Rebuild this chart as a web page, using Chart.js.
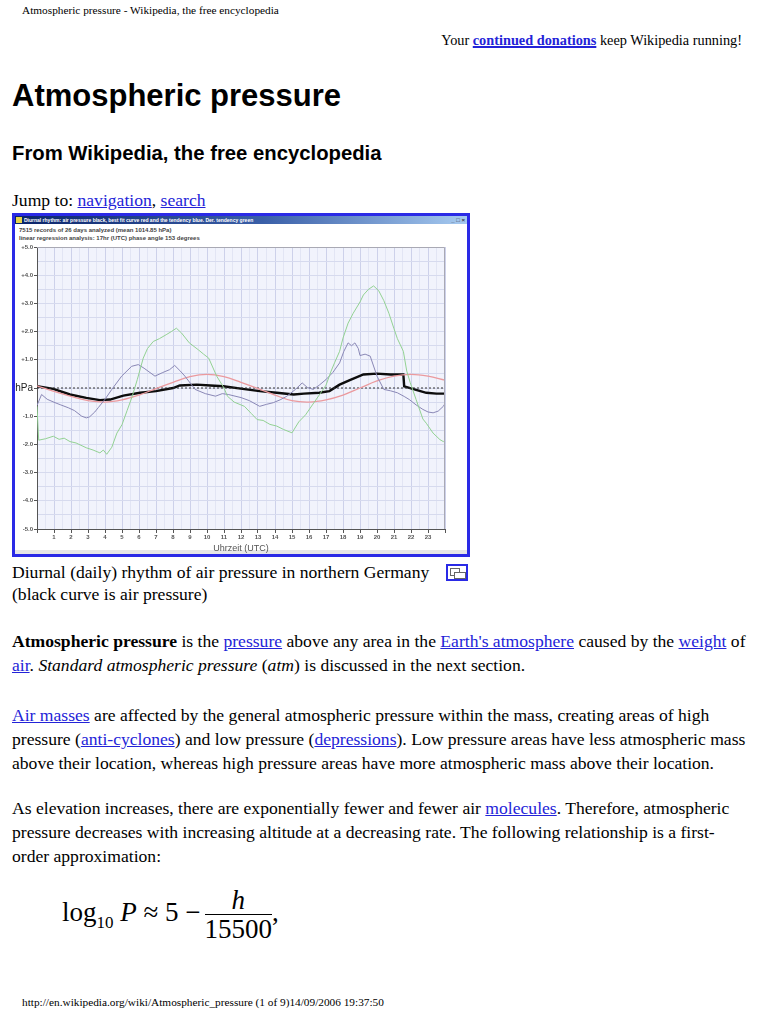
<!DOCTYPE html>
<html lang="en">
<head>
    <meta charset="UTF-8">
    <title>Atmospheric pressure - Wikipedia, the free encyclopedia</title>
    <script src="https://cdn.jsdelivr.net/npm/chart.js"></script>
    <style>
        body {
            margin: 0;
            width: 768px;
            height: 1024px;
            position: relative;
            background: #fff;
            font-family: "Liberation Serif", serif;
            color: #000;
        }

        .abs { position: absolute; white-space: nowrap; }
        a { color: #2323d8; text-decoration: underline; }

        #print-title { left: 22px; top: 4px; font-size: 11.3px; }
        #donate { right: 26px; top: 32px; font-size: 14.3px; }
        #donate a { font-weight: bold; text-decoration-thickness: 2px; }

        h1 {
            position: absolute; left: 12px; top: 78px; margin: 0;
            font: bold 31px "Liberation Sans", sans-serif;
        }
        h2 {
            position: absolute; left: 12px; top: 142px; margin: 0;
            font: bold 20.3px "Liberation Sans", sans-serif;
        }

        .text { font-size: 17.6px; line-height: 24px; }
        #jump { left: 12px; top: 188px; }

        #window {
            position: absolute; left: 12px; top: 213px;
            width: 458px; height: 344px; box-sizing: border-box;
            border: 3px solid #2a2ae6; background: #fff;
        }
        #titlebar {
            position: absolute; left: 0; top: 0; right: 0; height: 8px;
            background: linear-gradient(to right, #0a246a 0%, #3a5fa8 55%, #a6caf0 100%);
            color: #fff; font: bold 5px "Liberation Sans", sans-serif; line-height: 8px;
            padding-left: 9px; overflow: hidden; white-space: nowrap;
        }
        #titlebar .icon {
            position: absolute; left: 1px; top: 1px; width: 6px; height: 6px; background: #e8d44a;
        }
        #titlebar .btns {
            position: absolute; right: 2px; top: 0; color: #334; font-size: 6px;
        }
        .info {
            position: absolute; left: 4px; font: bold 6px "Liberation Sans", sans-serif;
            color: #444; white-space: nowrap;
        }
        #statusbar {
            position: absolute; left: 0; right: 0; bottom: 0; height: 4px; background: #e6e6e6;
        }
        #chart-box {
            position: absolute; left: 12px; top: 240px; width: 458px; height: 314px;
        }

        #caption { left: 12px; top: 561px; font-size: 17.6px; line-height: 22px; }
        #enlarge {
            position: absolute; left: 446px; top: 564px; width: 22px; height: 17px;
            box-sizing: border-box; border: 2px solid #2a2ae6; background: #fff;
        }
        #enlarge .a { position: absolute; left: 2px; top: 2px; width: 8px; height: 6px; border: 1px solid #666; }
        #enlarge .b { position: absolute; left: 6px; top: 6px; width: 10px; height: 5px; border: 1px solid #666; background: #fff; }

        #p1 { left: 12px; top: 629px; }
        #p2 { left: 12px; top: 703px; }
        #p3 { left: 12px; top: 796px; }

        #formula {
            left: 62px; top: 886px; font-size: 27px; line-height: 30px;
        }
        #formula sub { font-size: 17px; vertical-align: -7px; }
        .frac {
            display: inline-block; vertical-align: middle; text-align: center; margin-left: 4px;
        }
        .frac span { display: block; line-height: 28px; }
        .frac .num { border-bottom: 1.5px solid #000; padding: 0 2px; }

        #footer { left: 22px; top: 996px; font-size: 11.3px; }
    </style>
</head>
<body>
    <div class="abs" id="print-title">Atmospheric pressure - Wikipedia, the free encyclopedia</div>
    <div class="abs" id="donate">Your <a>continued donations</a> keep Wikipedia running!</div>

    <h1>Atmospheric pressure</h1>
    <h2>From Wikipedia, the free encyclopedia</h2>
    <div class="abs text" id="jump">Jump to: <a>navigation</a>, <a>search</a></div>

    <div id="window">
        <div id="titlebar"><span class="icon"></span>Diurnal rhythm: air pressure black, best fit curve red and the tendency blue. Der. tendency green<span class="btns">_ &#9633; &#215;</span></div>
        <div class="info" style="top: 11px;">7515 records of 26 days analyzed (mean 1014.85 hPa)</div>
        <div class="info" style="top: 19px;">linear regression analysis: 17hr (UTC) phase angle 153 degrees</div>
        <div id="statusbar"></div>
    </div>
    <div id="chart-box"><canvas id="pressure-chart"></canvas></div>

    <div class="abs" id="caption">Diurnal (daily) rhythm of air pressure in northern Germany<br>(black curve is air pressure)</div>
    <div id="enlarge"><div class="a"></div><div class="b"></div></div>

    <div class="abs text" id="p1"><b>Atmospheric pressure</b> is the <a>pressure</a> above any area in the <a>Earth's atmosphere</a> caused by the <a>weight</a> of<br><a>air</a>. <i>Standard atmospheric pressure</i> (<i>atm</i>) is discussed in the next section.</div>
    <div class="abs text" id="p2"><a>Air masses</a> are affected by the general atmospheric pressure within the mass, creating areas of high<br>pressure (<a>anti-cyclones</a>) and low pressure (<a>depressions</a>). Low pressure areas have less atmospheric mass<br>above their location, whereas high pressure areas have more atmospheric mass above their location.</div>
    <div class="abs text" id="p3">As elevation increases, there are exponentially fewer and fewer air <a>molecules</a>. Therefore, atmospheric<br>pressure decreases with increasing altitude at a decreasing rate. The following relationship is a first-<br>order approximation:</div>

    <div class="abs" id="formula">log<sub>10</sub> <i>P</i> &#8776; 5 &#8722;<span class="frac"><span class="num"><i>h</i></span><span>15500</span></span>,</div>

    <div class="abs" id="footer">http://en.wikipedia.org/wiki/Atmospheric_pressure (1 of 9)14/09/2006 19:37:50</div>

    <script>
        // axis labels as printed on the plot
        const xTickLabels = ['1', '2', '3', '4', '5', '6', '7', '8', '9', '10', '11', '12',
            '13', '14', '15', '16', '17', '18', '19', '20', '21', '22', '23'];
        const yTickValues = [5, 4, 3, 2, 1, 0, -1, -2, -3, -4, -5];
        const yTickLabels = ['+5.0', '+4.0', '+3.0', '+2.0', '+1.0', 'hPa', '-1.0', '-2.0', '-3.0', '-4.0', '-5.0'];
        const xAxisTitle = 'Uhrzeit (UTC)';

        // air pressure (black curve), hPa from the mean
        const pressureHours = [0, 0.96, 1.94, 2.9, 3.7, 4.3, 5.08, 6.06, 7, 8, 8.4, 9.4, 10.2, 10.96, 12.1,
            13.1, 14.1, 15.1, 15.7, 16.6, 17.2, 17.8, 18.4, 19.2, 19.98, 20.8, 21.55, 21.6, 22.2, 22.9, 23.5, 24];
        const pressureValues = [0.06, -0.03, -0.23, -0.35, -0.43, -0.41, -0.27, -0.17, -0.11, 0, 0.09, 0.12, 0.09, 0.06, -0.03,
            -0.11, -0.17, -0.23, -0.2, -0.17, -0.11, 0.12, 0.28, 0.48, 0.51, 0.48, 0.48, 0.06, -0.05, -0.17, -0.2, -0.2];

        // best fit curve (red)
        const fitHours = [0, 1, 2, 3, 4, 5, 6, 7, 8, 9, 10, 11, 12, 13, 14, 15, 16, 17, 18, 19, 20, 21, 22, 23, 24];
        const fitValues = [0.08, -0.12, -0.3, -0.45, -0.5, -0.42, -0.25, -0.02, 0.2, 0.4, 0.48, 0.4, 0.2,
            -0.02, -0.25, -0.45, -0.5, -0.42, -0.25, 0, 0.25, 0.42, 0.48, 0.42, 0.28];

        // tendency (blue)
        const tendencyHours = [0, 0.27, 0.6, 1.06, 1.4, 1.84, 2.2, 2.63, 2.9, 3.1, 3.4, 3.6, 4, 4.4, 4.98, 5.57, 5.96,
            6.3, 6.94, 7.4, 7.8, 8.1, 8.4, 8.7, 9.3, 9.9, 10.5, 10.9, 11.25, 12, 12.5, 13.1, 13.5, 13.9, 14.3,
            14.7, 15.2, 15.6, 15.9, 16.25, 16.6, 17, 17.4, 17.8, 18.05, 18.3, 18.5, 18.7, 18.9, 19, 19.3, 19.6,
            20, 20.4, 20.8, 21.2, 21.6, 21.9, 22.3, 22.7, 23, 23.3, 23.6, 23.9, 24];
        const tendencyValues = [-0.62, -0.23, -0.4, -0.52, -0.6, -0.7, -0.8, -1, -1.06, -1.02, -0.85, -0.7, -0.4, -0.05,
            0.42, 0.77, 0.83, 0.7, 0.42, 0.55, 0.65, 0.8, 0.62, 0.42, -0.05, -0.2, -0.29, -0.2, -0.23, -0.34,
            -0.45, -0.65, -0.58, -0.52, -0.42, -0.29, -0.05, 0.18, 0.02, -0.05, 0.1, 0.3, 0.55, 0.89, 1.3, 1.6,
            1.5, 1.6, 1.4, 1.15, 1.2, 1.13, 0.42, -0.05, -0.1, -0.17, -0.3, -0.41, -0.6, -0.76, -0.85, -0.88,
            -0.82, -0.65, -0.55];

        // derived tendency (green)
        const derivedHours = [0, 0.1, 0.5, 0.96, 1.3, 1.6, 1.94, 2.3, 2.9, 3.3, 3.7, 3.9, 4.1, 4.4, 4.7, 5, 5.3, 5.6,
            5.9, 6.25, 6.5, 6.84, 7.2, 7.6, 7.9, 8.2, 8.5, 8.96, 9.5, 9.8, 10.1, 10.57, 11, 11.2, 11.6, 12.2,
            12.6, 12.95, 13.3, 13.7, 14.1, 14.5, 15, 15.4, 15.8, 16.2, 16.6, 17, 17.3, 17.5, 17.8, 18, 18.3,
            18.6, 19, 19.2, 19.5, 19.8, 20.1, 20.4, 20.7, 21, 21.2, 21.55, 21.75, 21.95, 22.3, 22.7, 22.9,
            23.3, 23.7, 23.9, 24];
        const derivedValues = [-0.65, -1.85, -1.8, -1.71, -1.82, -1.78, -1.9, -1.95, -2.12, -2.2, -2.3, -2.2, -2.35,
            -2.1, -1.6, -1.3, -0.8, -0.3, 0.3, 1.06, 1.4, 1.65, 1.75, 1.89, 2, 2.12, 1.95, 1.6, 1.35, 1.2, 1.06,
            0.42, 0, -0.29, -0.5, -0.65, -0.9, -1.12, -1.15, -1.29, -1.35, -1.47, -1.59, -1.2, -0.95, -0.6,
            -0.25, 0.1, 0.6, 0.89, 1.3, 1.77, 2.3, 2.65, 3.05, 3.3, 3.5, 3.62, 3.45, 3.1, 2.65, 2.1, 1.75,
            1.3, 0.6, 0.2, -0.41, -1.1, -1.25, -1.6, -1.83, -1.9, -1.85];

        // dotted reference line at the mean
        const meanHours = [0, 24];
        const meanValues = [0, 0];

        function toPoints(hours, values) {
            return hours.map((h, i) => ({ x: h, y: values[i] }));
        }

        // light blue plot background and grey frame
        const plotFrame = {
            id: 'plotFrame',
            beforeDraw(chart) {
                const { ctx, chartArea: a } = chart;
                ctx.save();
                ctx.fillStyle = '#f1f3fc';
                ctx.fillRect(a.left, a.top, a.width, a.height);
                ctx.restore();
            },
            afterDatasetsDraw(chart) {
                const { ctx, chartArea: a } = chart;
                ctx.save();
                ctx.strokeStyle = '#a9a9b4';
                ctx.lineWidth = 1;
                ctx.beginPath();
                ctx.moveTo(a.left, a.top + 0.5);
                ctx.lineTo(a.right - 0.5, a.top + 0.5);
                ctx.lineTo(a.right - 0.5, a.bottom);
                ctx.stroke();
                ctx.restore();
            }
        };

        const isWhole = v => Math.abs(v - Math.round(v)) < 1e-6;

        new Chart(document.getElementById('pressure-chart'), {
            type: 'line',
            data: {
                datasets: [
                    { data: toPoints(derivedHours, derivedValues), borderColor: '#93d293', borderWidth: 1 },
                    { data: toPoints(tendencyHours, tendencyValues), borderColor: '#8a88b6', borderWidth: 1 },
                    { data: toPoints(fitHours, fitValues), borderColor: '#eb9a9e', borderWidth: 1.3, tension: 0.4 },
                    { data: toPoints(meanHours, meanValues), borderColor: '#333', borderWidth: 1, borderDash: [2, 2] },
                    { data: toPoints(pressureHours, pressureValues), borderColor: '#0d0d0d', borderWidth: 2.4 }
                ]
            },
            options: {
                responsive: true,
                maintainAspectRatio: false,
                animation: false,
                layout: { padding: { top: 7, right: 25, left: 0, bottom: 0 } },
                elements: { point: { radius: 0 }, line: { tension: 0 } },
                plugins: { legend: { display: false }, tooltip: { enabled: false } },
                scales: {
                    x: {
                        type: 'linear',
                        min: 0,
                        max: 24,
                        afterFit: scale => { scale.height = 25; },
                        border: { color: '#555', width: 1 },
                        grid: {
                            color: c => isWhole(c.tick.value) ? '#cdd1ea' : '#e2e5f4',
                            tickColor: c => isWhole(c.tick.value) ? '#555' : 'rgba(0,0,0,0)',
                            tickLength: 4
                        },
                        ticks: {
                            stepSize: 0.5,
                            autoSkip: false,
                            maxRotation: 0,
                            padding: 1,
                            color: '#555',
                            font: { family: 'Liberation Sans', size: 6, weight: 'bold' },
                            callback: v => (isWhole(v) && v >= 1 && v <= 23) ? xTickLabels[v - 1] : ''
                        },
                        title: {
                            display: true,
                            text: xAxisTitle,
                            color: '#555',
                            padding: 0,
                            font: { family: 'Liberation Sans', size: 9 }
                        }
                    },
                    y: {
                        min: -5,
                        max: 5,
                        afterFit: scale => { scale.width = 25; },
                        border: { color: '#555', width: 1 },
                        grid: {
                            color: '#d6daee',
                            tickColor: c => isWhole(c.tick.value) ? '#555' : 'rgba(0,0,0,0)',
                            tickLength: 3
                        },
                        ticks: {
                            stepSize: 0.5,
                            autoSkip: false,
                            padding: 1,
                            color: c => c.tick && c.tick.value === 0 ? '#222' : '#555',
                            font: c => (c.tick && c.tick.value === 0)
                                ? { family: 'Liberation Sans', size: 10 }
                                : { family: 'Liberation Sans', size: 6, weight: 'bold' },
                            callback: v => {
                                const i = yTickValues.indexOf(v);
                                return i >= 0 ? yTickLabels[i] : '';
                            }
                        }
                    }
                }
            },
            plugins: [plotFrame]
        });
    </script>
</body>
</html>
